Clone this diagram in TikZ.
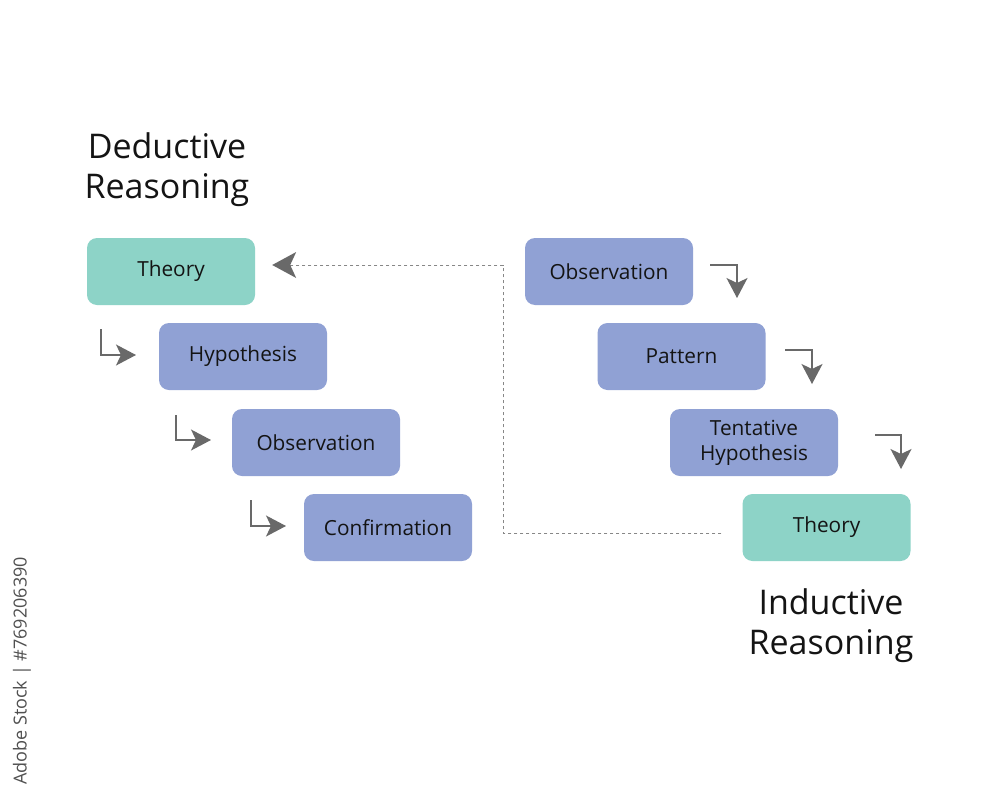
\documentclass[tikz,border=0pt]{standalone}
\usepackage{fontspec}
\setmainfont{Open Sans}
\usetikzlibrary{arrows.meta}
\definecolor{tealbox}{RGB}{141,211,199}
\definecolor{bluebox}{RGB}{144,161,212}
\definecolor{arrgray}{RGB}{105,105,105}
\definecolor{dashgray}{RGB}{135,135,135}
\definecolor{txt}{RGB}{20,20,20}
\tikzset{
  box/.style={rounded corners=10pt, minimum width=168pt, minimum height=67pt, inner sep=0pt,
    align=center, text=txt, font=\fontsize{20.8}{25}\selectfont},
  tbox/.style={box, fill=tealbox},
  bbox/.style={box, fill=bluebox},
  title/.style={align=center, text=txt, font=\fontsize{34}{40}\selectfont},
  elbow/.style={draw=arrgray, line width=1.4pt, -{Stealth[length=20pt,width=21pt,inset=5pt]}},
  back/.style={draw=dashgray, line width=1pt, dash pattern=on 3pt off 3pt,
    -{Stealth[length=24pt,width=26pt,inset=6pt,color=arrgray,fill=arrgray,line width=0pt]}},
}
\begin{document}
\begin{tikzpicture}[x=1pt,y=-1pt]
\useasboundingbox[fill=white] (0,0) rectangle (1000,800);
% titles
\node[title] (dtitle) at (167,170) {Deductive\\Reasoning};
\node[title] (ititle) at (831,626) {Inductive\\Reasoning};
% deductive boxes
\node[tbox] (dth) at (171,271.5) {Theory};
\node[bbox] (dhy) at (243,356.5) {Hypothesis};
\node[bbox] (dob) at (316,442.5) {Observation};
\node[bbox] (dco) at (388,527.5) {Confirmation};
% inductive boxes
\node[bbox] (iob) at (609,271.5) {Observation};
\node[bbox] (ipa) at (681.5,356.5) {Pattern};
\node[bbox] (ite) at (754,442.5) {Tentative\\Hypothesis};
\node[tbox] (ith) at (826.5,527.5) {Theory};
% deductive elbow arrows
\coordinate (d1s) at (101,329); \coordinate (d1e) at (136,355);
\coordinate (d2s) at (176,415); \coordinate (d2e) at (211,440);
\coordinate (d3s) at (251,500); \coordinate (d3e) at (286,526);
\draw[elbow] (d1s) |- (d1e);
\draw[elbow] (d2s) |- (d2e);
\draw[elbow] (d3s) |- (d3e);
% inductive elbow arrows
\coordinate (i1s) at (710,265); \coordinate (i1e) at (737,298);
\coordinate (i2s) at (785,350); \coordinate (i2e) at (812,384);
\coordinate (i3s) at (875,435); \coordinate (i3e) at (901,469);
\draw[elbow] (i1s) -| (i1e);
\draw[elbow] (i2s) -| (i2e);
\draw[elbow] (i3s) -| (i3e);
% dashed feedback
\coordinate (fbs) at ([xshift=-21pt,yshift=-5.5pt]ith.west);
\coordinate (fbc1) at (503,533);
\coordinate (fbc2) at (503,265);
\coordinate (fbe) at ([xshift=17pt,yshift=6.5pt]dth.east);
\draw[back] (fbs) -- (fbc1) -- (fbc2) -- (fbe);
% side text
\node[rotate=90, text={rgb,255:red,80;green,80;blue,80}, font=\fontsize{18}{20}\selectfont] (wm) at (22,671) {Adobe Stock | \#769206390};
\end{tikzpicture}
\end{document}
